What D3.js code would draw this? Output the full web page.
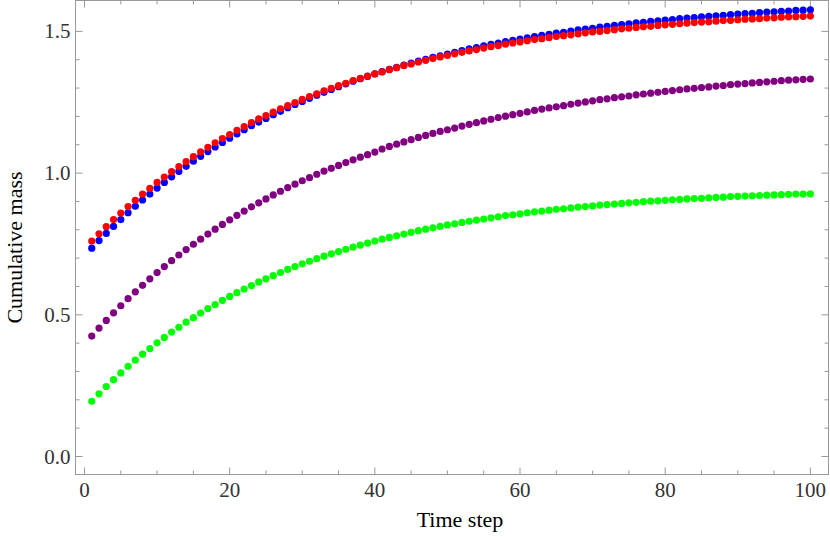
<!DOCTYPE html>
<html><head><meta charset="utf-8">
<script src="https://cdn.jsdelivr.net/npm/d3@7"></script>
<style>body{margin:0;background:#fff}text{font-family:"Liberation Serif",serif}</style>
</head><body><svg id="chart" width="830" height="537"></svg>
<script>
// Data, time steps 1..100
const blue = [.735,.762,.787,.812,.836,.860,.883,.905,.926,.947,.967,.987,1.006,1.024,1.042,1.059,1.076,1.092,1.108,1.123,1.138,1.153,1.167,1.180,1.193,1.206,1.218,1.231,1.242,1.253,1.264,1.275,1.285,1.295,1.305,1.315,1.324,1.333,1.341,1.350,1.358,1.366,1.373,1.381,1.388,1.395,1.401,1.408,1.414,1.420,1.426,1.432,1.438,1.443,1.449,1.454,1.459,1.464,1.468,1.473,1.477,1.482,1.486,1.490,1.494,1.497,1.501,1.505,1.508,1.511,1.515,1.518,1.521,1.524,1.527,1.530,1.532,1.535,1.537,1.540,1.542,1.545,1.547,1.549,1.551,1.553,1.555,1.557,1.559,1.561,1.563,1.564,1.566,1.568,1.569,1.571,1.572,1.574,1.575,1.576];
const red = [.760,.786,.811,.836,.859,.882,.904,.926,.946,.967,.986,1.005,1.023,1.041,1.058,1.075,1.091,1.107,1.122,1.136,1.151,1.164,1.178,1.191,1.203,1.215,1.227,1.238,1.249,1.260,1.270,1.280,1.290,1.299,1.309,1.317,1.326,1.334,1.342,1.350,1.357,1.365,1.372,1.379,1.385,1.392,1.398,1.404,1.410,1.415,1.421,1.426,1.431,1.436,1.441,1.446,1.450,1.455,1.459,1.463,1.467,1.471,1.474,1.478,1.482,1.485,1.488,1.491,1.495,1.498,1.500,1.503,1.506,1.509,1.511,1.514,1.516,1.518,1.521,1.523,1.525,1.527,1.529,1.531,1.533,1.534,1.536,1.538,1.539,1.541,1.543,1.544,1.545,1.547,1.548,1.550,1.551,1.552,1.553,1.554];
const purple = [.425,.453,.480,.507,.532,.557,.581,.604,.627,.649,.670,.691,.711,.730,.749,.767,.785,.802,.819,.835,.851,.866,.881,.895,.909,.923,.936,.949,.961,.973,.984,.996,1.007,1.017,1.027,1.037,1.047,1.056,1.065,1.074,1.085,1.094,1.102,1.110,1.118,1.126,1.133,1.140,1.147,1.153,1.159,1.166,1.172,1.178,1.184,1.190,1.196,1.201,1.206,1.211,1.216,1.221,1.226,1.230,1.234,1.238,1.243,1.247,1.251,1.255,1.259,1.262,1.266,1.269,1.272,1.276,1.279,1.282,1.285,1.288,1.291,1.294,1.297,1.299,1.302,1.304,1.307,1.309,1.312,1.314,1.316,1.318,1.320,1.322,1.324,1.326,1.328,1.329,1.331,1.332];
const green = [.195,.221,.247,.271,.295,.318,.340,.361,.381,.401,.420,.439,.456,.474,.490,.506,.522,.536,.551,.565,.578,.591,.603,.616,.627,.638,.649,.660,.670,.680,.689,.698,.707,.715,.723,.731,.739,.746,.753,.760,.767,.773,.779,.785,.791,.797,.802,.807,.812,.817,.821,.826,.830,.834,.838,.842,.846,.850,.853,.856,.860,.863,.866,.869,.872,.874,.877,.880,.882,.884,.887,.889,.891,.893,.895,.897,.899,.901,.902,.904,.906,.907,.909,.910,.911,.913,.914,.915,.917,.918,.919,.920,.921,.922,.923,.924,.925,.926,.926,.927];
const xTicks = [0, 20, 40, 60, 80, 100];
const yTicks = [0, 0.5, 1.0, 1.5];

const series = [
  {vals: blue, color: "#0000ff"},
  {vals: red, color: "#ff0000"},
  {vals: purple, color: "#800080"},
  {vals: green, color: "#00ff00"}
];

const svg = d3.select("#chart");
const L = 75.5, R = 828.5, T = 0.5, B = 474.5;
const x = d3.scaleLinear().domain([-1.24, 102.5]).range([L, R]);
const y = d3.scaleLinear().domain([-0.0635, 1.609]).range([B, T]);

// frame
svg.append("rect").attr("x", L).attr("y", T).attr("width", R - L).attr("height", B - T)
  .attr("fill", "none").attr("stroke", "#999").attr("stroke-width", 1);

// ticks
const g = svg.append("g").attr("stroke", "#999");
d3.range(0, 101, 5).forEach(v => {
  const len = v % 20 === 0 ? 7 : 4;
  g.append("line").attr("x1", x(v)).attr("x2", x(v)).attr("y1", B).attr("y2", B - len);
  g.append("line").attr("x1", x(v)).attr("x2", x(v)).attr("y1", T).attr("y2", T + len);
});
d3.range(0, 16).forEach(i => {
  const v = i / 10, len = i % 5 === 0 ? 7 : 4;
  g.append("line").attr("y1", y(v)).attr("y2", y(v)).attr("x1", L).attr("x2", L + len);
  g.append("line").attr("y1", y(v)).attr("y2", y(v)).attr("x1", R).attr("x2", R - len);
});

svg.selectAll(".xt").data(xTicks).enter().append("text")
  .attr("x", d => x(d)).attr("y", B + 22).attr("text-anchor", "middle")
  .attr("font-size", 21).attr("fill", "#333").text(d => d);
svg.selectAll(".yt").data(yTicks).enter().append("text")
  .attr("x", L - 5).attr("y", d => y(d) + 7).attr("text-anchor", "end")
  .attr("font-size", 21).attr("fill", "#333").text(d => d.toFixed(1));

svg.append("text").attr("x", (L + R) / 2 + 8).attr("y", 527).attr("text-anchor", "middle")
  .attr("font-size", 22).text("Time step");
svg.append("text").attr("transform", `translate(22,${(T + B) / 2 + 10}) rotate(-90)`)
  .attr("text-anchor", "middle").attr("font-size", 22).text("Cumulative mass");

series.forEach(s => {
  svg.append("g").selectAll("circle").data(s.vals).enter().append("circle")
    .attr("cx", (d, i) => x(i + 1)).attr("cy", d => y(d)).attr("r", 3.6)
    .attr("fill", s.color);
});
</script></body></html>
